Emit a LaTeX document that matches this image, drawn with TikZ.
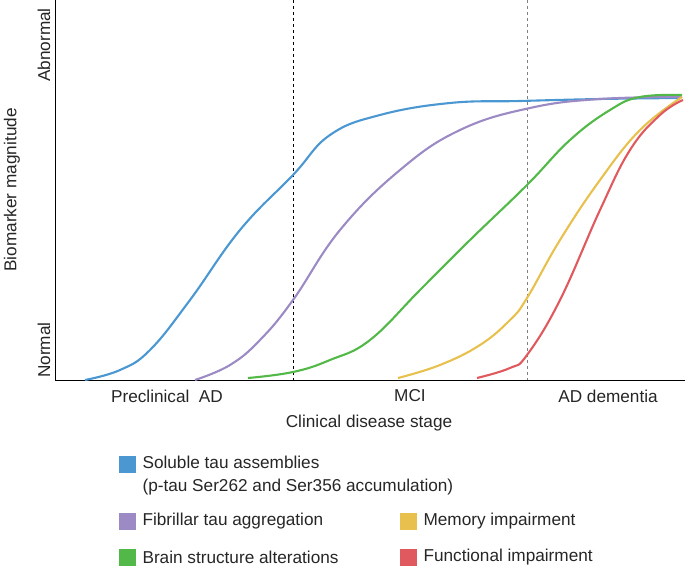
\documentclass[tikz,border=0pt]{standalone}
\usepackage{fontspec}
\setmainfont{Liberation Sans}
\definecolor{cblue}{HTML}{4A97D2}
\definecolor{cpurple}{HTML}{9B8AC4}
\definecolor{cgreen}{HTML}{52B848}
\definecolor{cyellow}{HTML}{E8C04E}
\definecolor{cred}{HTML}{E0595E}
\begin{document}
\begin{tikzpicture}[x=1pt,y=-1pt,
  curve/.style={line width=2.1pt,smooth,tension=0.7},
  lbl/.style={font=\fontsize{17.2}{23}\selectfont,text=black!85},
  sq/.style={minimum size=17pt,inner sep=0pt}]
\useasboundingbox (0,0) rectangle (685,569);
\coordinate (o) at (55,380);
\coordinate (top) at (55,0);
\coordinate (xe) at (685,380);
\draw[line width=1pt] (top) -- (o) -- (xe);
\coordinate (d1t) at (293,0); \coordinate (d1b) at (293,380);
\coordinate (d2t) at (527,0); \coordinate (d2b) at (527,380);
\draw[dashed,line width=0.8pt] (d1t) -- (d1b);
\draw[dashed,line width=0.8pt,gray] (d2t) -- (d2b);
\draw[curve,cblue] plot coordinates {(85,380)(120,370)(150,350)(190,300)(240,230)(293,175)(330,135)(380,115)(450,103)(520,101)(600,99)(680,98)};
\draw[curve,cpurple] plot coordinates {(195,380)(230,365)(260,340)(293,300)(340,230)(400,170)(460,130)(530,108)(600,99)(682,97)};
\draw[curve,cgreen] plot coordinates {(248,378)(293,372)(330,360)(370,340)(420,290)(470,240)(527,185)(570,140)(610,110)(640,97)(682,95)};
\draw[curve,cyellow] plot coordinates {(398,378)(440,365)(480,345)(510,320)(527,298)(560,240)(600,180)(640,130)(682,97)};
\draw[curve,cred] plot coordinates {(477,378)(510,368)(527,355)(560,300)(600,210)(630,150)(660,115)(683,100)};
\node[lbl,rotate=90] (ab) at (44,45) {Abnormal};
\node[lbl,rotate=90] (no) at (44,350) {Normal};
\node[lbl,rotate=90] (bm) at (12,190) {Biomarker magnitude};
\node[lbl] (pa) at (167,396) {Preclinical\ \ AD};
\node[lbl] (mci) at (410,396) {MCI};
\node[lbl] (ad) at (608,396) {AD dementia};
\node[lbl] (cds) at (369,423) {Clinical disease stage};
\node[sq,fill=cblue] (s1) at (127,464) {};
\node[lbl,anchor=west,align=left] (t1) at (139,475.5) {Soluble tau assemblies\\(p-tau Ser262 and Ser356 accumulation)};
\node[sq,fill=cpurple] (s2) at (127,521) {};
\node[lbl,anchor=west] (t2) at (139,521) {Fibrillar tau aggregation};
\node[sq,fill=cgreen] (s3) at (127,557) {};
\node[lbl,anchor=west] (t3) at (139,557) {Brain structure alterations};
\node[sq,fill=cyellow] (s4) at (408,521) {};
\node[lbl,anchor=west] (t4) at (420,521) {Memory impairment};
\node[sq,fill=cred] (s5) at (408,557) {};
\node[lbl,anchor=west] (t5) at (420,557) {Functional impairment};
\end{tikzpicture}
\end{document}
